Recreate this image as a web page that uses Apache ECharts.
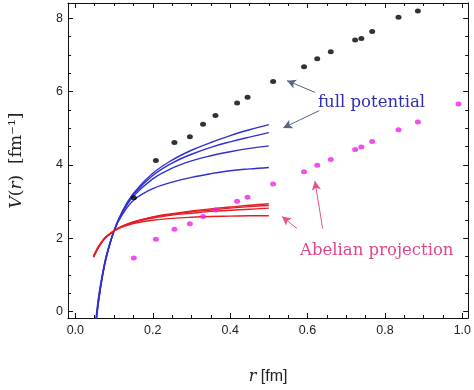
<!DOCTYPE html>
<html>
<head>
<meta charset="utf-8">
<script src="https://cdn.jsdelivr.net/npm/echarts@6/dist/echarts.min.js"></script>
<style>html,body{margin:0;padding:0;background:#fff}#c{width:474px;height:390px}</style>
</head>
<body>
<div id="c"></div>
<script>
// ---- data ----
const xMajorTicks = [0, 0.2, 0.4, 0.6, 0.8, 1.0];
const xMinorTicks = [0.05, 0.1, 0.15, 0.25, 0.3, 0.35, 0.45, 0.5, 0.55, 0.65, 0.7, 0.75, 0.85, 0.9, 0.95];
const yMajorTicks = [0, 2, 4, 6, 8];
const yMinorTicks = [0.5, 1, 1.5, 2.5, 3, 3.5, 4.5, 5, 5.5, 6.5, 7, 7.5];

// lattice distances r [fm]
const rPoints = [0.151, 0.208, 0.256, 0.296, 0.330, 0.362, 0.418, 0.445, 0.511, 0.591, 0.625, 0.660, 0.723, 0.739, 0.767, 0.835, 0.885];
const vFull = [3.10, 4.12, 4.61, 4.77, 5.11, 5.35, 5.69, 5.85, 6.28, 6.68, 6.90, 7.09, 7.41, 7.45, 7.64, 8.03, 8.20];
const rAbelian = [0.151, 0.208, 0.256, 0.296, 0.330, 0.362, 0.418, 0.445, 0.511, 0.591, 0.625, 0.660, 0.723, 0.739, 0.767, 0.835, 0.885, 0.990];
const vAbelian = [1.46, 1.97, 2.24, 2.39, 2.59, 2.77, 3.01, 3.12, 3.48, 3.81, 3.99, 4.15, 4.42, 4.49, 4.64, 4.96, 5.17, 5.66];

// fit curves (full potential, blue)
const rBlue = [0.052, 0.06, 0.07, 0.08, 0.1, 0.12, 0.15, 0.2, 0.25, 0.3, 0.35, 0.4, 0.45, 0.5];
const blueFit1 = [-0.46, 0.27, 0.95, 1.47, 2.2, 2.70, 3.22, 3.77, 4.13, 4.40, 4.61, 4.80, 4.96, 5.10];
const blueFit2 = [-0.44, 0.29, 0.97, 1.48, 2.2, 2.69, 3.19, 3.71, 4.05, 4.29, 4.48, 4.63, 4.76, 4.88];
const blueFit3 = [-0.39, 0.33, 0.99, 1.50, 2.2, 2.67, 3.14, 3.62, 3.91, 4.11, 4.25, 4.36, 4.45, 4.52];
const blueFit4 = [-0.35, 0.40, 1.02, 1.52, 2.2, 2.62, 3.03, 3.35, 3.53, 3.66, 3.76, 3.84, 3.89, 3.93];

// fit curves (Abelian projection, red)
const rRed = [0.047, 0.055, 0.06, 0.07, 0.08, 0.1, 0.12, 0.15, 0.2, 0.25, 0.3, 0.35, 0.4, 0.45, 0.5];
const redFit1 = [1.48, 1.65, 1.75, 1.91, 2.03, 2.2, 2.32, 2.44, 2.58, 2.67, 2.74, 2.80, 2.85, 2.90, 2.94];
const redFit2 = [1.49, 1.66, 1.76, 1.91, 2.03, 2.2, 2.32, 2.44, 2.57, 2.65, 2.72, 2.77, 2.82, 2.86, 2.89];
const redFit3 = [1.50, 1.66, 1.76, 1.92, 2.04, 2.2, 2.31, 2.43, 2.55, 2.63, 2.68, 2.73, 2.76, 2.79, 2.82];
const redFit4 = [1.52, 1.69, 1.78, 1.93, 2.05, 2.2, 2.30, 2.40, 2.49, 2.54, 2.57, 2.59, 2.60, 2.61, 2.61];

// annotation arrows in data coordinates: [from, to]
const arrowsFull = [[[0.619, 5.98], [0.547, 6.30]], [[0.630, 5.48], [0.537, 5.01]]];
const arrowsAbelian = [[[0.573, 2.26], [0.534, 2.59]], [[0.639, 2.26], [0.619, 3.56]]];

// ---- chart ----
const zip = (xs, ys) => xs.map((x, i) => [x, ys[i]]);
const X_MIN = -0.019, X_MAX = 1.015, Y_MIN = -0.18, Y_MAX = 8.42;
const frameColor = '#111';

function xAx(pos, ticks, len, showLine, showLabel) {
  return {
    type: 'value', position: pos, min: X_MIN, max: X_MAX,
    axisLine: { show: showLine, onZero: false, lineStyle: { color: frameColor, width: 1 } },
    axisTick: { show: true, inside: true, length: len, customValues: ticks, lineStyle: { color: frameColor, width: 1 } },
    axisLabel: showLabel ? { show: true, customValues: ticks, margin: 6, color: '#222', fontSize: 12.5, fontFamily: 'Liberation Sans', formatter: v => v.toFixed(1) } : { show: false },
    splitLine: { show: false }
  };
}
function yAx(pos, ticks, len, showLine, showLabel) {
  return {
    type: 'value', position: pos, min: Y_MIN, max: Y_MAX,
    axisLine: { show: showLine, onZero: false, lineStyle: { color: frameColor, width: 1 } },
    axisTick: { show: true, inside: true, length: len, customValues: ticks, lineStyle: { color: frameColor, width: 1 } },
    axisLabel: showLabel ? { show: true, customValues: ticks, margin: 5, color: '#222', fontSize: 12.5, fontFamily: 'Liberation Sans', formatter: v => String(v) } : { show: false },
    splitLine: { show: false }
  };
}

const xAxes = [xAx('bottom', xMajorTicks, 5, true, true), xAx('bottom', xMinorTicks, 3, false, false), xAx('top', xMajorTicks, 5, true, false), xAx('top', xMinorTicks, 3, false, false)];
xAxes[0].name = '{i|r} [fm]';
xAxes[0].nameLocation = 'middle';
xAxes[0].nameGap = 51;
xAxes[0].nameTextStyle = { fontSize: 16, fontFamily: 'Liberation Sans', color: '#222', rich: { i: { fontFamily: 'DejaVu Serif', fontStyle: 'italic', fontSize: 16, color: '#222' } } };

const yAxes = [yAx('left', yMajorTicks, 5, true, true), yAx('left', yMinorTicks, 3, false, false), yAx('right', yMajorTicks, 5, true, false), yAx('right', yMinorTicks, 3, false, false)];
yAxes[0].name = '{i|V}({i|r})  [fm⁻¹]';
yAxes[0].nameLocation = 'middle';
yAxes[0].nameGap = 43;
yAxes[0].nameRotate = 90;
yAxes[0].nameTextStyle = { fontSize: 17, fontFamily: 'DejaVu Serif', color: '#222', rich: { i: { fontFamily: 'DejaVu Serif', fontStyle: 'italic', fontSize: 17, color: '#222' } } };

function curve(name, xs, ys, color) {
  return { name, type: 'line', data: zip(xs, ys), smooth: 0.4, symbol: 'none', clip: true,
    lineStyle: { color, width: 1.4 }, z: 3, silent: true };
}
function arrowLines(list, lineColor, headColor) {
  return list.map(([a, b]) => [{ coord: a, symbol: 'none' }, { coord: b, symbol: 'arrow', symbolSize: [7, 9], itemStyle: { color: headColor } }]);
}

const option = {
  animation: false,
  grid: { left: 65, right: 4, top: 3, bottom: 63, containLabel: false },
  xAxis: xAxes,
  yAxis: yAxes,
  series: [
    curve('b1', rBlue, blueFit1, '#3030d0'),
    curve('b2', rBlue, blueFit2, '#3030d0'),
    curve('b3', rBlue, blueFit3, '#3030d0'),
    curve('b4', rBlue, blueFit4, '#3030d0'),
    curve('r1', rRed, redFit1, '#e41e26'),
    curve('r2', rRed, redFit2, '#e41e26'),
    curve('r3', rRed, redFit3, '#e41e26'),
    curve('r4', rRed, redFit4, '#e41e26'),
    { name: 'full', type: 'scatter', data: zip(rPoints, vFull), symbol: 'circle', symbolSize: [6, 5],
      itemStyle: { color: '#000' }, z: 5,
      markLine: { silent: true, symbol: ['none', 'arrow'], label: { show: false },
        lineStyle: { color: '#5a6580', width: 1, type: 'solid' }, emphasis: { disabled: true },
        data: arrowLines(arrowsFull, '#5a6580', '#1c2a5c') } },
    { name: 'abelian', type: 'scatter', data: zip(rAbelian, vAbelian), symbol: 'circle', symbolSize: [6, 5],
      itemStyle: { color: '#f020e8' }, z: 5,
      markLine: { silent: true, symbol: ['none', 'arrow'], label: { show: false },
        lineStyle: { color: '#e8508a', width: 1, type: 'solid' }, emphasis: { disabled: true },
        data: arrowLines(arrowsAbelian, '#e8508a', '#e8508a') } }
  ],
  graphic: [
    { type: 'text', left: 318, top: 94, style: { text: 'full potential', font: '16.5px "DejaVu Serif"', fill: '#2e2eb4' } },
    { type: 'text', left: 300, top: 242, style: { text: 'Abelian projection', font: '16.5px "DejaVu Serif"', fill: '#e2468a' } }
  ]
};

const chart = echarts.init(document.getElementById('c'), null, { renderer: 'canvas', width: 474, height: 390 });
chart.setOption(option);
</script>
</body>
</html>
